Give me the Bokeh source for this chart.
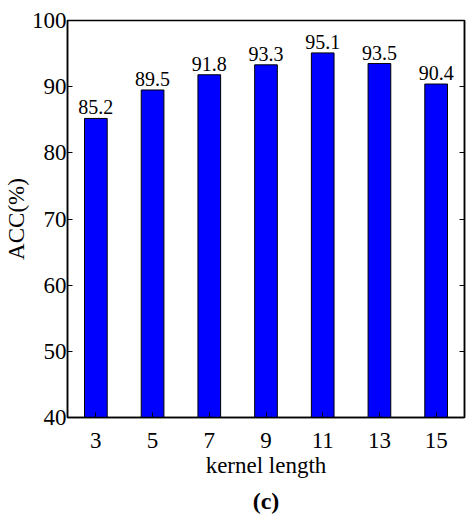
from bokeh.plotting import figure
from bokeh.models import Range1d, FixedTicker, LinearAxis, Title, ColumnDataSource
from bokeh.embed import file_html
from bokeh.resources import INLINE

kernel_lengths = [3, 5, 7, 9, 11, 13, 15]
acc = [85.2, 89.5, 91.8, 93.3, 95.1, 93.5, 90.4]
acc_labels = ["85.2", "89.5", "91.8", "93.3", "95.1", "93.5", "90.4"]
y_ticks = [40, 50, 60, 70, 80, 90, 100]

FONT = "Liberation Serif"

src = ColumnDataSource(dict(x=kernel_lengths, top=acc, lab=acc_labels))

p = figure(frame_width=397, frame_height=397, output_backend="svg", toolbar_location=None,
           x_range=Range1d(2, 16), y_range=Range1d(40, 100),
           min_border_left=60, min_border_top=20, min_border_right=2, min_border_bottom=10,
           background_fill_color="white", border_fill_color="white")

p.vbar(x="x", top="top", bottom=40, width=0.8, source=src,
       fill_color="#0000ff", line_color="black", line_width=1)
p.text(x="x", y="top", text="lab", source=src, text_align="center", text_baseline="bottom",
       y_offset=-4, text_font=FONT, text_font_size="20px", text_color="black")

p.xgrid.visible = False
p.ygrid.visible = False
p.outline_line_color = "black"
p.outline_line_width = 1.5
p.outline_line_alpha = 1

for ax in (p.xaxis[0], p.yaxis[0]):
    ax.major_label_text_font = FONT
    ax.major_label_text_font_size = "23px"
    ax.major_label_text_color = "black"
    ax.axis_label_text_font = FONT
    ax.axis_label_text_font_size = "23px"
    ax.axis_label_text_font_style = "normal"
    ax.axis_label_text_color = "black"
    ax.axis_line_color = "black"
    ax.axis_line_width = 1.5
    ax.major_tick_in = 5
    ax.major_tick_out = 0
    ax.minor_tick_line_color = None
    ax.major_tick_line_color = "black"

p.xaxis.ticker = FixedTicker(ticks=kernel_lengths)
p.yaxis.ticker = FixedTicker(ticks=y_ticks)
p.xaxis.axis_label = "kernel length"
p.yaxis.axis_label = "ACC(%)"
p.xaxis.major_label_standoff = 15
p.xaxis.axis_label_standoff = 2
p.yaxis.major_label_standoff = 1
p.yaxis.axis_label_standoff = 0

r_ax = LinearAxis(ticker=FixedTicker(ticks=y_ticks),
                  major_label_overrides={t: "" for t in y_ticks},
                  major_tick_in=5, major_tick_out=0, minor_tick_line_color=None,
                  axis_line_color="black", axis_line_width=1.5, major_label_standoff=0)
p.add_layout(r_ax, "right")

cap = Title(text="(c)", align="center", text_font=FONT, text_font_size="24px",
            text_font_style="bold", text_color="black", standoff=11)
p.add_layout(cap, "below")

open("out.html", "w").write(file_html(p, INLINE))
